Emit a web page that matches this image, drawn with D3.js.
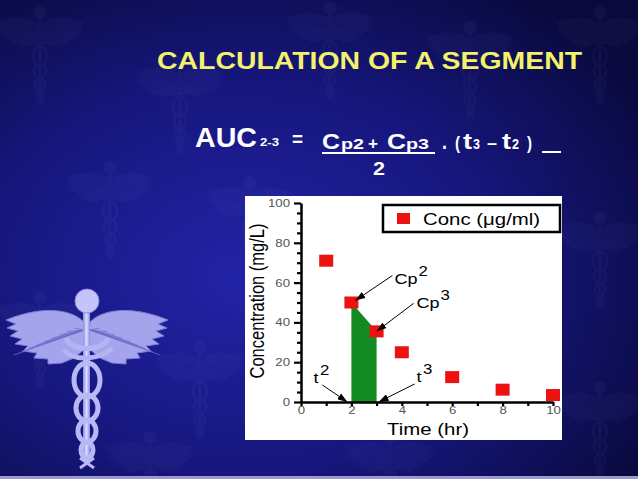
<!DOCTYPE html>
<html>
<head>
<meta charset="utf-8">
<script src="https://cdn.jsdelivr.net/npm/d3@7"></script>
<style>
  body { margin: 0; background: #0c0c48; }
  svg { display: block; }
  text { font-family: "Liberation Sans", Arial, sans-serif; }
</style>
</head>
<body>
<svg id="slide" width="638" height="479"></svg>
<script>
// data
const times = [1, 2, 3, 4, 6, 8, 10];
const conc = [71, 50, 35.5, 25, 12.5, 6.2, 3.5];
const segment = [2, 3];
const xLabelTicks = [0, 2, 4, 6, 8, 10];
const yLabelTicks = [0, 20, 40, 60, 80, 100];
const seriesName = "Conc (\u03bcg/ml)";
const notes = [
  { name: "Cp", sup: "2", t: 2, c: 50, tip: [4, -2], from: [41, -27], lab: [43, -19] },
  { name: "Cp", sup: "3", t: 3, c: 35.5, tip: [0, 0], from: [37, -28], lab: [40, -23] },
  { name: "t", sup: "2", t: 2, c: 0, tip: [-4, 0], from: [-29, -17], lab: [-38, -19] },
  { name: "t", sup: "3", t: 3, c: 0, tip: [2, 0], from: [38, -18], lab: [40, -20] }
];

const points = times.map((t, i) => ({ t, c: conc[i] }));

const svg = d3.select("#slide");
const W = 638, H = 479;
const defs = svg.append("defs");

// background
const bg = defs.append("radialGradient").attr("id", "bg")
  .attr("cx", "38%").attr("cy", "58%").attr("r", "75%");
bg.append("stop").attr("offset", "0").attr("stop-color", "#2323a8");
bg.append("stop").attr("offset", "0.55").attr("stop-color", "#16167c");
bg.append("stop").attr("offset", "1").attr("stop-color", "#09093c");
svg.append("rect").attr("width", W).attr("height", H).attr("fill", "url(#bg)");
svg.append("rect").attr("y", H - 3).attr("width", W).attr("height", 3).attr("fill", "#9a9ad2");

// caduceus shape, reused for the faint pattern
const staffG = defs.append("linearGradient").attr("id", "staff");
staffG.append("stop").attr("offset", "0").attr("stop-color", "#8a8ae6");
staffG.append("stop").attr("offset", "0.5").attr("stop-color", "#dcdcff");
staffG.append("stop").attr("offset", "1").attr("stop-color", "#8a8ae6");
const cad = defs.append("g").attr("id", "cad");
const wing = "M84,322 C70,308 40,306 6,320 L16,324 L7,328 L18,331 L10,336 L22,339 L15,344 L28,346 L23,351 " +
  "L37,353 L34,358 L48,359 L48,364 L62,363 L74,358 L86,348 Z";
[null, "translate(174,0) scale(-1,1)"].forEach(tr => {
  const w = cad.append("g").attr("transform", tr);
  w.append("path").attr("d", wing).attr("fill", "#a4a4ec").attr("stroke", "#7c7cd8").attr("stroke-width", 1);
  d3.range(9).forEach(i => {
    const a = 10 + i * 8;
    w.append("line").attr("x1", 84).attr("y1", 330)
      .attr("x2", 84 - a * 0.95).attr("y2", 330 + a * 0.42 - 6)
      .attr("stroke", "#6c6cc8").attr("stroke-width", 0.8);
  });
});
cad.append("rect").attr("x", 83).attr("y", 304).attr("width", 7).attr("height", 158).attr("fill", "url(#staff)");
cad.append("circle").attr("cx", 87).attr("cy", 301).attr("r", 12).attr("fill", "#c4c4fa")
  .attr("stroke", "#8a8ae0").attr("stroke-width", 1);
cad.append("path").attr("d", "M66,338 C70,352 104,352 108,338 M64,350 C74,362 100,360 112,348")
  .attr("fill", "none").attr("stroke", "#b4b4f2").attr("stroke-width", 5);
[[380, 13, 17], [408, 11, 13], [431, 9, 11], [450, 6, 8]].forEach(([cy, rx, ry]) => {
  cad.append("ellipse").attr("cx", 87).attr("cy", cy).attr("rx", rx).attr("ry", ry)
    .attr("fill", "none").attr("stroke", "#b8b8f4").attr("stroke-width", 5);
});
cad.append("path").attr("d", "M80,458 L94,468 M94,458 L80,468").attr("stroke", "#b8b8f4").attr("stroke-width", 3);

[[40, 45], [180, 95], [330, 40], [470, 60], [600, 45], [110, 200], [250, 215], [40, 330],
 [200, 380], [600, 250], [600, 420], [150, 470], [390, 470]].forEach(([px, py]) => {
  svg.append("use").attr("href", "#cad").attr("opacity", 0.035)
    .attr("transform", `translate(${px},${py}) scale(0.55) translate(-87,-360)`);
});
svg.append("use").attr("href", "#cad");

// text helper: sx stretches glyphs like the slide does
function put(g, str, px, py, size, opt = {}) {
  const t = g.append("text").attr("font-size", size)
    .attr("font-weight", opt.bold ? "bold" : null)
    .attr("text-anchor", opt.anchor || null)
    .attr("fill", opt.fill || "#000").text(str);
  if (opt.w) {
    t.attr("x", px).attr("y", py).attr("textLength", opt.w).attr("lengthAdjust", "spacingAndGlyphs");
  } else {
    t.attr("transform", `translate(${px},${py}) scale(${opt.sx || 1.2},1)${opt.rot ? " rotate(" + opt.rot + ")" : ""}`);
  }
  return t;
}

// heading and formula
put(svg, "CALCULATION OF A SEGMENT", 157, 69, 23, { bold: true, fill: "#f2f26c", w: 425 });
const fw = { bold: true, fill: "#fff" };
put(svg, "AUC", 195, 147, 27, { ...fw, w: 62 });
put(svg, "2-3", 260, 146, 11, { ...fw, w: 19 });
put(svg, "=", 292, 146, 20, { ...fw, w: 11 });
put(svg, "C", 322, 149, 22, { ...fw, w: 18 });
put(svg, "p2", 341, 149, 15, { ...fw, w: 23 });
put(svg, "+", 368, 149, 16, { ...fw, w: 10 });
put(svg, "C", 387, 149, 22, { ...fw, w: 19 });
put(svg, "p3", 406, 149, 15, { ...fw, w: 23 });
put(svg, ".", 442, 149, 22, { ...fw, w: 5 });
put(svg, "(", 455, 149, 19, { ...fw, w: 5 });
put(svg, "t", 463, 149, 22, { ...fw, w: 9 });
put(svg, "3", 473, 149, 14, { ...fw, w: 7 });
put(svg, "\u2013", 487, 149, 18, { ...fw, w: 10 });
put(svg, "t", 502, 149, 22, { ...fw, w: 9 });
put(svg, "2", 512, 149, 14, { ...fw, w: 7 });
put(svg, ")", 527, 149, 19, { ...fw, w: 5 });
svg.append("line").attr("x1", 322).attr("x2", 435).attr("y1", 153).attr("y2", 153)
  .attr("stroke", "#fff").attr("stroke-width", 2);
svg.append("line").attr("x1", 542).attr("x2", 561).attr("y1", 152).attr("y2", 152)
  .attr("stroke", "#fff").attr("stroke-width", 2);
put(svg, "2", 373, 175, 18, { ...fw, w: 12 });

// chart panel
svg.append("rect").attr("x", 245).attr("y", 196).attr("width", 317).attr("height", 244).attr("fill", "#fff");

const x = d3.scaleLinear().domain([0, 10]).range([301, 553]);
const y = d3.scaleLinear().domain([0, 100]).range([402, 203]);

// shaded segment
const seg = points.filter(d => d.t >= segment[0] && d.t <= segment[1]);
svg.append("path").datum(seg)
  .attr("d", d3.area().x(d => x(d.t)).y0(y(0)).y1(d => y(d.c)))
  .attr("fill", "#138a22");

// axes
const gx = svg.append("g").attr("transform", `translate(0,${y(0)})`)
  .call(d3.axisBottom(x).tickValues(d3.range(0, 11)).tickSize(4).tickSizeOuter(0).tickPadding(0)
    .tickFormat(d => xLabelTicks.includes(d) ? d : ""));
const gy = svg.append("g").attr("transform", `translate(${x(0)},0)`)
  .call(d3.axisLeft(y).tickValues(d3.range(0, 101, 5)).tickSize(7).tickSizeOuter(0).tickPadding(4)
    .tickFormat(d => yLabelTicks.includes(d) ? d : ""));
gy.selectAll(".tick line").attr("x2", d => yLabelTicks.includes(d) ? -7 : -4);
gy.selectAll(".tick text").attr("x", null).attr("transform", "translate(-11,0) scale(1.2,1)");
gx.selectAll(".tick text").attr("transform", "scale(1.2,1)");
[gx, gy].forEach(g => {
  g.select(".domain").attr("stroke", "#000").attr("stroke-width", 2.5);
  g.selectAll(".tick line").attr("stroke", "#000").attr("stroke-width", 2.2);
  g.selectAll(".tick text").attr("font-size", 11).attr("fill", "#555")
    .attr("font-family", "'Liberation Sans', Arial, sans-serif");
});

put(svg, "Concentration (mg/L)", 264, 301, 16.5, { anchor: "middle", rot: -90 });
put(svg, "Time (hr)", 428, 435, 17, { anchor: "middle" });

// markers
svg.append("g").selectAll("rect").data(points).join("rect")
  .attr("x", d => x(d.t) - 7).attr("y", d => y(d.c) - 6)
  .attr("width", 14).attr("height", 12).attr("fill", "#ec1212");

// legend
svg.append("rect").attr("x", 383).attr("y", 205).attr("width", 177).attr("height", 27)
  .attr("fill", "#fff").attr("stroke", "#000").attr("stroke-width", 2.5);
svg.append("rect").attr("x", 397).attr("y", 213).attr("width", 13).attr("height", 11).attr("fill", "#ec1212");
put(svg, seriesName, 423, 225, 17);

// annotations
defs.append("marker").attr("id", "head").attr("markerUnits", "userSpaceOnUse")
  .attr("viewBox", "0 0 10 7").attr("refX", 10).attr("refY", 3.5)
  .attr("markerWidth", 10).attr("markerHeight", 7).attr("orient", "auto")
  .append("path").attr("d", "M0,0 L10,3.5 L0,7 Z").attr("fill", "#000");
notes.forEach(n => {
  const px = x(n.t), py = y(n.c);
  svg.append("line")
    .attr("x1", px + n.from[0]).attr("y1", py + n.from[1])
    .attr("x2", px + n.tip[0]).attr("y2", py + n.tip[1])
    .attr("stroke", "#000").attr("stroke-width", 1).attr("marker-end", "url(#head)");
  const lx = px + n.lab[0], ly = py + n.lab[1];
  const nameW = n.name === "Cp" ? 24 : 6.5;
  put(svg, n.name, lx, ly, 15);
  put(svg, n.sup, lx + nameW, ly - 8, 14);
});
</script>
</body>
</html>
